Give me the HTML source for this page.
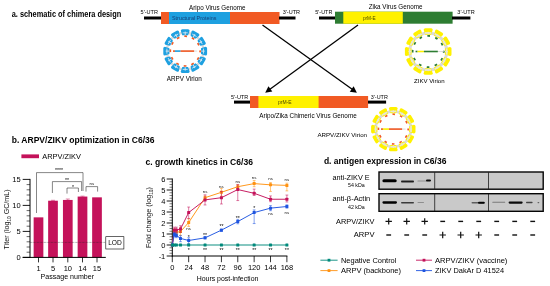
<!DOCTYPE html>
<html lang="en"><head><meta charset="utf-8"><title>Chimera design figure</title>
<style>html,body{margin:0;padding:0;background:#fff}body{width:550px;height:286px;overflow:hidden;font-family:"Liberation Sans",sans-serif}</style>
</head><body>
<svg width="550" height="286" viewBox="0 0 550 286" font-family="'Liberation Sans', sans-serif" style="display:block">
<text x="11.7" y="16.6" font-size="8.6" font-weight="bold" textLength="109.5" lengthAdjust="spacingAndGlyphs" fill="#000">a. schematic of chimera design</text>
<rect x="144" y="16.5" width="18" height="3" fill="#000"/>
<rect x="161" y="12" width="118.5" height="12" fill="#f15a24"/>
<rect x="169" y="12" width="61" height="12" fill="#1ea0e0"/>
<rect x="279" y="16.5" width="16.5" height="3" fill="#000"/>
<text x="140.6" y="14.2" font-size="5.5" textLength="17.4" lengthAdjust="spacingAndGlyphs" fill="#000">5'-UTR</text>
<text x="282.7" y="14.0" font-size="5.5" textLength="17.3" lengthAdjust="spacingAndGlyphs" fill="#000">3'-UTR</text>
<text x="189" y="10.2" font-size="6.3" textLength="56.4" lengthAdjust="spacingAndGlyphs" fill="#000">Aripo Virus Genome</text>
<text x="172" y="19.9" font-size="5.4" textLength="44.4" lengthAdjust="spacingAndGlyphs" fill="#153e75">Structural Proteins</text>
<rect x="319" y="16.5" width="17" height="3" fill="#000"/>
<rect x="335" y="11.7" width="117.6" height="12" fill="#2e7d32"/>
<rect x="343.3" y="11.7" width="59.5" height="12" fill="#fff100"/>
<rect x="452" y="16.5" width="18.4" height="3" fill="#000"/>
<text x="315.3" y="14.0" font-size="5.5" textLength="17.0" lengthAdjust="spacingAndGlyphs" fill="#000">5'-UTR</text>
<text x="457.3" y="14.2" font-size="5.5" textLength="17.5" lengthAdjust="spacingAndGlyphs" fill="#000">3'-UTR</text>
<text x="368.7" y="8.7" font-size="6.3" textLength="53.7" lengthAdjust="spacingAndGlyphs" fill="#000">Zika Virus Genome</text>
<text x="362.9" y="20.0" font-size="4.9" textLength="12.9" lengthAdjust="spacingAndGlyphs" fill="#4a4a00">prM-E</text>
<line x1="262.50" y1="25.00" x2="352.51" y2="89.55" stroke="#000" stroke-width="1.3"/>
<polygon points="356.90,92.70 349.78,91.65 353.62,86.29" fill="#000"/>
<line x1="358.00" y1="25.00" x2="269.56" y2="89.52" stroke="#000" stroke-width="1.3"/>
<polygon points="265.20,92.70 268.43,86.26 272.32,91.59" fill="#000"/>
<rect x="234" y="100.6" width="17" height="3" fill="#000"/>
<rect x="250" y="96" width="118.1" height="12" fill="#f15a24"/>
<rect x="258.4" y="96" width="60.2" height="12" fill="#fff100"/>
<rect x="368" y="100.6" width="18.1" height="3" fill="#000"/>
<text x="231" y="98.9" font-size="5.5" textLength="17.2" lengthAdjust="spacingAndGlyphs" fill="#000">5'-UTR</text>
<text x="370.8" y="98.7" font-size="5.5" textLength="17.0" lengthAdjust="spacingAndGlyphs" fill="#000">3'-UTR</text>
<text x="278" y="104.2" font-size="4.9" textLength="13.6" lengthAdjust="spacingAndGlyphs" fill="#4a4a00">prM-E</text>
<text x="259.3" y="118.0" font-size="6.3" textLength="97.4" lengthAdjust="spacingAndGlyphs" fill="#000">Aripo/Zika Chimeric Virus Genome</text>
<text x="317.4" y="137.1" font-size="6.2" textLength="49.6" lengthAdjust="spacingAndGlyphs" fill="#000">ARPV/ZIKV Virion</text>
<text x="166.7" y="80.5" font-size="6.3" textLength="35.1" lengthAdjust="spacingAndGlyphs" fill="#000">ARPV Virion</text>
<text x="414" y="83.2" font-size="6.1" textLength="30.6" lengthAdjust="spacingAndGlyphs" fill="#000">ZIKV Virion</text>
<g transform="translate(185.2,51.1)">
<circle r="18.30" fill="none" stroke="#dadada" stroke-width="2.4"/>
<circle r="14.90" fill="none" stroke="#f15a24" stroke-width="1.7" stroke-dasharray="2.800 5.002" stroke-dashoffset="1.400"/>
<g transform="rotate(0.00)"><path d="M-4.40,-20.30 Q-4.40,-21.90 -2.80,-21.90 L2.80,-21.90 Q4.40,-21.90 4.40,-20.30 L2.90,-15.80 L-2.90,-15.80 Z" fill="#1ea0e0"/><path d="M-2.50,-18.30 H2.50" stroke="#d4e6f2" stroke-width="0.86" fill="none"/><path d="M0,-19.50 V-16.10" stroke="#d4e6f2" stroke-width="1.0" fill="none"/></g>
<g transform="rotate(30.00)"><path d="M-4.40,-20.30 Q-4.40,-21.90 -2.80,-21.90 L2.80,-21.90 Q4.40,-21.90 4.40,-20.30 L2.90,-15.80 L-2.90,-15.80 Z" fill="#1ea0e0"/><path d="M-2.50,-18.30 H2.50" stroke="#d4e6f2" stroke-width="0.86" fill="none"/><path d="M0,-19.50 V-16.10" stroke="#d4e6f2" stroke-width="1.0" fill="none"/></g>
<g transform="rotate(60.00)"><path d="M-4.40,-20.30 Q-4.40,-21.90 -2.80,-21.90 L2.80,-21.90 Q4.40,-21.90 4.40,-20.30 L2.90,-15.80 L-2.90,-15.80 Z" fill="#1ea0e0"/><path d="M-2.50,-18.30 H2.50" stroke="#d4e6f2" stroke-width="0.86" fill="none"/><path d="M0,-19.50 V-16.10" stroke="#d4e6f2" stroke-width="1.0" fill="none"/></g>
<g transform="rotate(90.00)"><path d="M-4.40,-20.30 Q-4.40,-21.90 -2.80,-21.90 L2.80,-21.90 Q4.40,-21.90 4.40,-20.30 L2.90,-15.80 L-2.90,-15.80 Z" fill="#1ea0e0"/><path d="M-2.50,-18.30 H2.50" stroke="#d4e6f2" stroke-width="0.86" fill="none"/><path d="M0,-19.50 V-16.10" stroke="#d4e6f2" stroke-width="1.0" fill="none"/></g>
<g transform="rotate(120.00)"><path d="M-4.40,-20.30 Q-4.40,-21.90 -2.80,-21.90 L2.80,-21.90 Q4.40,-21.90 4.40,-20.30 L2.90,-15.80 L-2.90,-15.80 Z" fill="#1ea0e0"/><path d="M-2.50,-18.30 H2.50" stroke="#d4e6f2" stroke-width="0.86" fill="none"/><path d="M0,-19.50 V-16.10" stroke="#d4e6f2" stroke-width="1.0" fill="none"/></g>
<g transform="rotate(150.00)"><path d="M-4.40,-20.30 Q-4.40,-21.90 -2.80,-21.90 L2.80,-21.90 Q4.40,-21.90 4.40,-20.30 L2.90,-15.80 L-2.90,-15.80 Z" fill="#1ea0e0"/><path d="M-2.50,-18.30 H2.50" stroke="#d4e6f2" stroke-width="0.86" fill="none"/><path d="M0,-19.50 V-16.10" stroke="#d4e6f2" stroke-width="1.0" fill="none"/></g>
<g transform="rotate(180.00)"><path d="M-4.40,-20.30 Q-4.40,-21.90 -2.80,-21.90 L2.80,-21.90 Q4.40,-21.90 4.40,-20.30 L2.90,-15.80 L-2.90,-15.80 Z" fill="#1ea0e0"/><path d="M-2.50,-18.30 H2.50" stroke="#d4e6f2" stroke-width="0.86" fill="none"/><path d="M0,-19.50 V-16.10" stroke="#d4e6f2" stroke-width="1.0" fill="none"/></g>
<g transform="rotate(210.00)"><path d="M-4.40,-20.30 Q-4.40,-21.90 -2.80,-21.90 L2.80,-21.90 Q4.40,-21.90 4.40,-20.30 L2.90,-15.80 L-2.90,-15.80 Z" fill="#1ea0e0"/><path d="M-2.50,-18.30 H2.50" stroke="#d4e6f2" stroke-width="0.86" fill="none"/><path d="M0,-19.50 V-16.10" stroke="#d4e6f2" stroke-width="1.0" fill="none"/></g>
<g transform="rotate(240.00)"><path d="M-4.40,-20.30 Q-4.40,-21.90 -2.80,-21.90 L2.80,-21.90 Q4.40,-21.90 4.40,-20.30 L2.90,-15.80 L-2.90,-15.80 Z" fill="#1ea0e0"/><path d="M-2.50,-18.30 H2.50" stroke="#d4e6f2" stroke-width="0.86" fill="none"/><path d="M0,-19.50 V-16.10" stroke="#d4e6f2" stroke-width="1.0" fill="none"/></g>
<g transform="rotate(270.00)"><path d="M-4.40,-20.30 Q-4.40,-21.90 -2.80,-21.90 L2.80,-21.90 Q4.40,-21.90 4.40,-20.30 L2.90,-15.80 L-2.90,-15.80 Z" fill="#1ea0e0"/><path d="M-2.50,-18.30 H2.50" stroke="#d4e6f2" stroke-width="0.86" fill="none"/><path d="M0,-19.50 V-16.10" stroke="#d4e6f2" stroke-width="1.0" fill="none"/></g>
<g transform="rotate(300.00)"><path d="M-4.40,-20.30 Q-4.40,-21.90 -2.80,-21.90 L2.80,-21.90 Q4.40,-21.90 4.40,-20.30 L2.90,-15.80 L-2.90,-15.80 Z" fill="#1ea0e0"/><path d="M-2.50,-18.30 H2.50" stroke="#d4e6f2" stroke-width="0.86" fill="none"/><path d="M0,-19.50 V-16.10" stroke="#d4e6f2" stroke-width="1.0" fill="none"/></g>
<g transform="rotate(330.00)"><path d="M-4.40,-20.30 Q-4.40,-21.90 -2.80,-21.90 L2.80,-21.90 Q4.40,-21.90 4.40,-20.30 L2.90,-15.80 L-2.90,-15.80 Z" fill="#1ea0e0"/><path d="M-2.50,-18.30 H2.50" stroke="#d4e6f2" stroke-width="0.86" fill="none"/><path d="M0,-19.50 V-16.10" stroke="#d4e6f2" stroke-width="1.0" fill="none"/></g>
<line x1="-12.10" y1="0" x2="12.00" y2="0" stroke="#cfcfcf" stroke-width="0.7"/>
<line x1="-12.10" y1="0" x2="-10.30" y2="0" stroke="#f15a24" stroke-width="1.6"/>
<line x1="-10.30" y1="0" x2="-4.60" y2="0" stroke="#1ea0e0" stroke-width="1.6"/>
<line x1="-4.60" y1="0" x2="8.90" y2="0" stroke="#f15a24" stroke-width="1.6"/>
</g>
<g transform="translate(428.2,51.5)">
<circle r="18.50" fill="none" stroke="#dadada" stroke-width="3.0"/>
<circle r="15.60" fill="none" stroke="#2e7d32" stroke-width="1.8" stroke-dasharray="2.700 5.468" stroke-dashoffset="1.350"/>
<g transform="rotate(0.00)"><path d="M-4.50,-21.70 Q-4.50,-23.30 -2.90,-23.30 L2.90,-23.30 Q4.50,-23.30 4.50,-21.70 L3.00,-16.70 L-3.00,-16.70 Z" fill="#fff100"/><path d="M-3.20,-18.50 H3.20" stroke="#e6e6d8" stroke-width="1.80" fill="none"/><path d="M0,-19.70 V-17.00" stroke="#e6e6d8" stroke-width="1.0" fill="none"/></g>
<g transform="rotate(30.00)"><path d="M-4.50,-21.70 Q-4.50,-23.30 -2.90,-23.30 L2.90,-23.30 Q4.50,-23.30 4.50,-21.70 L3.00,-16.70 L-3.00,-16.70 Z" fill="#fff100"/><path d="M-3.20,-18.50 H3.20" stroke="#e6e6d8" stroke-width="1.80" fill="none"/><path d="M0,-19.70 V-17.00" stroke="#e6e6d8" stroke-width="1.0" fill="none"/></g>
<g transform="rotate(60.00)"><path d="M-4.50,-21.70 Q-4.50,-23.30 -2.90,-23.30 L2.90,-23.30 Q4.50,-23.30 4.50,-21.70 L3.00,-16.70 L-3.00,-16.70 Z" fill="#fff100"/><path d="M-3.20,-18.50 H3.20" stroke="#e6e6d8" stroke-width="1.80" fill="none"/><path d="M0,-19.70 V-17.00" stroke="#e6e6d8" stroke-width="1.0" fill="none"/></g>
<g transform="rotate(90.00)"><path d="M-4.50,-21.70 Q-4.50,-23.30 -2.90,-23.30 L2.90,-23.30 Q4.50,-23.30 4.50,-21.70 L3.00,-16.70 L-3.00,-16.70 Z" fill="#fff100"/><path d="M-3.20,-18.50 H3.20" stroke="#e6e6d8" stroke-width="1.80" fill="none"/><path d="M0,-19.70 V-17.00" stroke="#e6e6d8" stroke-width="1.0" fill="none"/></g>
<g transform="rotate(120.00)"><path d="M-4.50,-21.70 Q-4.50,-23.30 -2.90,-23.30 L2.90,-23.30 Q4.50,-23.30 4.50,-21.70 L3.00,-16.70 L-3.00,-16.70 Z" fill="#fff100"/><path d="M-3.20,-18.50 H3.20" stroke="#e6e6d8" stroke-width="1.80" fill="none"/><path d="M0,-19.70 V-17.00" stroke="#e6e6d8" stroke-width="1.0" fill="none"/></g>
<g transform="rotate(150.00)"><path d="M-4.50,-21.70 Q-4.50,-23.30 -2.90,-23.30 L2.90,-23.30 Q4.50,-23.30 4.50,-21.70 L3.00,-16.70 L-3.00,-16.70 Z" fill="#fff100"/><path d="M-3.20,-18.50 H3.20" stroke="#e6e6d8" stroke-width="1.80" fill="none"/><path d="M0,-19.70 V-17.00" stroke="#e6e6d8" stroke-width="1.0" fill="none"/></g>
<g transform="rotate(180.00)"><path d="M-4.50,-21.70 Q-4.50,-23.30 -2.90,-23.30 L2.90,-23.30 Q4.50,-23.30 4.50,-21.70 L3.00,-16.70 L-3.00,-16.70 Z" fill="#fff100"/><path d="M-3.20,-18.50 H3.20" stroke="#e6e6d8" stroke-width="1.80" fill="none"/><path d="M0,-19.70 V-17.00" stroke="#e6e6d8" stroke-width="1.0" fill="none"/></g>
<g transform="rotate(210.00)"><path d="M-4.50,-21.70 Q-4.50,-23.30 -2.90,-23.30 L2.90,-23.30 Q4.50,-23.30 4.50,-21.70 L3.00,-16.70 L-3.00,-16.70 Z" fill="#fff100"/><path d="M-3.20,-18.50 H3.20" stroke="#e6e6d8" stroke-width="1.80" fill="none"/><path d="M0,-19.70 V-17.00" stroke="#e6e6d8" stroke-width="1.0" fill="none"/></g>
<g transform="rotate(240.00)"><path d="M-4.50,-21.70 Q-4.50,-23.30 -2.90,-23.30 L2.90,-23.30 Q4.50,-23.30 4.50,-21.70 L3.00,-16.70 L-3.00,-16.70 Z" fill="#fff100"/><path d="M-3.20,-18.50 H3.20" stroke="#e6e6d8" stroke-width="1.80" fill="none"/><path d="M0,-19.70 V-17.00" stroke="#e6e6d8" stroke-width="1.0" fill="none"/></g>
<g transform="rotate(270.00)"><path d="M-4.50,-21.70 Q-4.50,-23.30 -2.90,-23.30 L2.90,-23.30 Q4.50,-23.30 4.50,-21.70 L3.00,-16.70 L-3.00,-16.70 Z" fill="#fff100"/><path d="M-3.20,-18.50 H3.20" stroke="#e6e6d8" stroke-width="1.80" fill="none"/><path d="M0,-19.70 V-17.00" stroke="#e6e6d8" stroke-width="1.0" fill="none"/></g>
<g transform="rotate(300.00)"><path d="M-4.50,-21.70 Q-4.50,-23.30 -2.90,-23.30 L2.90,-23.30 Q4.50,-23.30 4.50,-21.70 L3.00,-16.70 L-3.00,-16.70 Z" fill="#fff100"/><path d="M-3.20,-18.50 H3.20" stroke="#e6e6d8" stroke-width="1.80" fill="none"/><path d="M0,-19.70 V-17.00" stroke="#e6e6d8" stroke-width="1.0" fill="none"/></g>
<g transform="rotate(330.00)"><path d="M-4.50,-21.70 Q-4.50,-23.30 -2.90,-23.30 L2.90,-23.30 Q4.50,-23.30 4.50,-21.70 L3.00,-16.70 L-3.00,-16.70 Z" fill="#fff100"/><path d="M-3.20,-18.50 H3.20" stroke="#e6e6d8" stroke-width="1.80" fill="none"/><path d="M0,-19.70 V-17.00" stroke="#e6e6d8" stroke-width="1.0" fill="none"/></g>
<line x1="-12.60" y1="0" x2="15.80" y2="0" stroke="#cfcfcf" stroke-width="0.7"/>
<line x1="-12.60" y1="0" x2="-10.70" y2="0" stroke="#2e7d32" stroke-width="1.6"/>
<line x1="-10.70" y1="0" x2="-4.30" y2="0" stroke="#fff100" stroke-width="1.6"/>
<line x1="-4.30" y1="0" x2="9.60" y2="0" stroke="#2e7d32" stroke-width="1.6"/>
</g>
<g transform="translate(393.3,129.1)">
<circle r="17.70" fill="none" stroke="#dadada" stroke-width="2.8"/>
<circle r="14.90" fill="none" stroke="#f15a24" stroke-width="1.7" stroke-dasharray="2.600 5.202" stroke-dashoffset="1.300"/>
<g transform="rotate(0.00)"><path d="M-4.30,-20.60 Q-4.30,-22.20 -2.70,-22.20 L2.70,-22.20 Q4.30,-22.20 4.30,-20.60 L2.90,-15.90 L-2.90,-15.90 Z" fill="#fff100"/><path d="M-3.00,-17.70 H3.00" stroke="#e6e6d8" stroke-width="1.68" fill="none"/><path d="M0,-18.90 V-16.20" stroke="#e6e6d8" stroke-width="1.0" fill="none"/></g>
<g transform="rotate(30.00)"><path d="M-4.30,-20.60 Q-4.30,-22.20 -2.70,-22.20 L2.70,-22.20 Q4.30,-22.20 4.30,-20.60 L2.90,-15.90 L-2.90,-15.90 Z" fill="#fff100"/><path d="M-3.00,-17.70 H3.00" stroke="#e6e6d8" stroke-width="1.68" fill="none"/><path d="M0,-18.90 V-16.20" stroke="#e6e6d8" stroke-width="1.0" fill="none"/></g>
<g transform="rotate(60.00)"><path d="M-4.30,-20.60 Q-4.30,-22.20 -2.70,-22.20 L2.70,-22.20 Q4.30,-22.20 4.30,-20.60 L2.90,-15.90 L-2.90,-15.90 Z" fill="#fff100"/><path d="M-3.00,-17.70 H3.00" stroke="#e6e6d8" stroke-width="1.68" fill="none"/><path d="M0,-18.90 V-16.20" stroke="#e6e6d8" stroke-width="1.0" fill="none"/></g>
<g transform="rotate(90.00)"><path d="M-4.30,-20.60 Q-4.30,-22.20 -2.70,-22.20 L2.70,-22.20 Q4.30,-22.20 4.30,-20.60 L2.90,-15.90 L-2.90,-15.90 Z" fill="#fff100"/><path d="M-3.00,-17.70 H3.00" stroke="#e6e6d8" stroke-width="1.68" fill="none"/><path d="M0,-18.90 V-16.20" stroke="#e6e6d8" stroke-width="1.0" fill="none"/></g>
<g transform="rotate(120.00)"><path d="M-4.30,-20.60 Q-4.30,-22.20 -2.70,-22.20 L2.70,-22.20 Q4.30,-22.20 4.30,-20.60 L2.90,-15.90 L-2.90,-15.90 Z" fill="#fff100"/><path d="M-3.00,-17.70 H3.00" stroke="#e6e6d8" stroke-width="1.68" fill="none"/><path d="M0,-18.90 V-16.20" stroke="#e6e6d8" stroke-width="1.0" fill="none"/></g>
<g transform="rotate(150.00)"><path d="M-4.30,-20.60 Q-4.30,-22.20 -2.70,-22.20 L2.70,-22.20 Q4.30,-22.20 4.30,-20.60 L2.90,-15.90 L-2.90,-15.90 Z" fill="#fff100"/><path d="M-3.00,-17.70 H3.00" stroke="#e6e6d8" stroke-width="1.68" fill="none"/><path d="M0,-18.90 V-16.20" stroke="#e6e6d8" stroke-width="1.0" fill="none"/></g>
<g transform="rotate(180.00)"><path d="M-4.30,-20.60 Q-4.30,-22.20 -2.70,-22.20 L2.70,-22.20 Q4.30,-22.20 4.30,-20.60 L2.90,-15.90 L-2.90,-15.90 Z" fill="#fff100"/><path d="M-3.00,-17.70 H3.00" stroke="#e6e6d8" stroke-width="1.68" fill="none"/><path d="M0,-18.90 V-16.20" stroke="#e6e6d8" stroke-width="1.0" fill="none"/></g>
<g transform="rotate(210.00)"><path d="M-4.30,-20.60 Q-4.30,-22.20 -2.70,-22.20 L2.70,-22.20 Q4.30,-22.20 4.30,-20.60 L2.90,-15.90 L-2.90,-15.90 Z" fill="#fff100"/><path d="M-3.00,-17.70 H3.00" stroke="#e6e6d8" stroke-width="1.68" fill="none"/><path d="M0,-18.90 V-16.20" stroke="#e6e6d8" stroke-width="1.0" fill="none"/></g>
<g transform="rotate(240.00)"><path d="M-4.30,-20.60 Q-4.30,-22.20 -2.70,-22.20 L2.70,-22.20 Q4.30,-22.20 4.30,-20.60 L2.90,-15.90 L-2.90,-15.90 Z" fill="#fff100"/><path d="M-3.00,-17.70 H3.00" stroke="#e6e6d8" stroke-width="1.68" fill="none"/><path d="M0,-18.90 V-16.20" stroke="#e6e6d8" stroke-width="1.0" fill="none"/></g>
<g transform="rotate(270.00)"><path d="M-4.30,-20.60 Q-4.30,-22.20 -2.70,-22.20 L2.70,-22.20 Q4.30,-22.20 4.30,-20.60 L2.90,-15.90 L-2.90,-15.90 Z" fill="#fff100"/><path d="M-3.00,-17.70 H3.00" stroke="#e6e6d8" stroke-width="1.68" fill="none"/><path d="M0,-18.90 V-16.20" stroke="#e6e6d8" stroke-width="1.0" fill="none"/></g>
<g transform="rotate(300.00)"><path d="M-4.30,-20.60 Q-4.30,-22.20 -2.70,-22.20 L2.70,-22.20 Q4.30,-22.20 4.30,-20.60 L2.90,-15.90 L-2.90,-15.90 Z" fill="#fff100"/><path d="M-3.00,-17.70 H3.00" stroke="#e6e6d8" stroke-width="1.68" fill="none"/><path d="M0,-18.90 V-16.20" stroke="#e6e6d8" stroke-width="1.0" fill="none"/></g>
<g transform="rotate(330.00)"><path d="M-4.30,-20.60 Q-4.30,-22.20 -2.70,-22.20 L2.70,-22.20 Q4.30,-22.20 4.30,-20.60 L2.90,-15.90 L-2.90,-15.90 Z" fill="#fff100"/><path d="M-3.00,-17.70 H3.00" stroke="#e6e6d8" stroke-width="1.68" fill="none"/><path d="M0,-18.90 V-16.20" stroke="#e6e6d8" stroke-width="1.0" fill="none"/></g>
<line x1="-12.20" y1="0" x2="12.30" y2="0" stroke="#cfcfcf" stroke-width="0.7"/>
<line x1="-12.20" y1="0" x2="-10.40" y2="0" stroke="#f15a24" stroke-width="1.6"/>
<line x1="-10.40" y1="0" x2="-4.30" y2="0" stroke="#fff100" stroke-width="1.6"/>
<line x1="-4.30" y1="0" x2="8.80" y2="0" stroke="#f15a24" stroke-width="1.6"/>
</g>
<text x="11.7" y="142.7" font-size="8.6" font-weight="bold" textLength="142.9" lengthAdjust="spacingAndGlyphs" fill="#000">b. ARPV/ZIKV optimization in C6/36</text>
<rect x="21.4" y="154.4" width="17.6" height="3.8" fill="#c4125a"/>
<text x="42.3" y="159.0" font-size="7.4" textLength="38.7" lengthAdjust="spacingAndGlyphs" fill="#000">ARPV/ZIKV</text>
<rect x="33.65" y="217.36" width="9.7" height="40.04" fill="#c4125a"/>
<rect x="48.15" y="200.72" width="9.7" height="56.68" fill="#c4125a"/>
<rect x="62.95" y="199.94" width="9.7" height="57.46" fill="#c4125a"/>
<rect x="77.65" y="196.56" width="9.7" height="60.84" fill="#c4125a"/>
<rect x="92.15" y="197.34" width="9.7" height="60.06" fill="#c4125a"/>
<path d="M53,200.72 V200.30 M51,200.30 H55" stroke="#c4125a" stroke-width="0.5" fill="none"/>
<path d="M67.8,199.94 V199.00 M65.8,199.00 H69.8" stroke="#c4125a" stroke-width="0.5" fill="none"/>
<path d="M82.5,196.56 V196.14 M80.5,196.14 H84.5" stroke="#c4125a" stroke-width="0.5" fill="none"/>
<line x1="30" y1="178.90" x2="30" y2="257.90" stroke="#000" stroke-width="1"/>
<line x1="22.7" y1="257.4" x2="105.8" y2="257.4" stroke="#000" stroke-width="1"/>
<line x1="22.7" y1="257.40" x2="30" y2="257.40" stroke="#000" stroke-width="0.9"/>
<line x1="26.6" y1="252.20" x2="30" y2="252.20" stroke="#000" stroke-width="0.6"/>
<line x1="26.6" y1="247.00" x2="30" y2="247.00" stroke="#000" stroke-width="0.6"/>
<line x1="26.6" y1="241.80" x2="30" y2="241.80" stroke="#000" stroke-width="0.6"/>
<line x1="26.6" y1="236.60" x2="30" y2="236.60" stroke="#000" stroke-width="0.6"/>
<line x1="22.7" y1="231.40" x2="30" y2="231.40" stroke="#000" stroke-width="0.9"/>
<line x1="26.6" y1="226.20" x2="30" y2="226.20" stroke="#000" stroke-width="0.6"/>
<line x1="26.6" y1="221.00" x2="30" y2="221.00" stroke="#000" stroke-width="0.6"/>
<line x1="26.6" y1="215.80" x2="30" y2="215.80" stroke="#000" stroke-width="0.6"/>
<line x1="26.6" y1="210.60" x2="30" y2="210.60" stroke="#000" stroke-width="0.6"/>
<line x1="22.7" y1="205.40" x2="30" y2="205.40" stroke="#000" stroke-width="0.9"/>
<line x1="26.6" y1="200.20" x2="30" y2="200.20" stroke="#000" stroke-width="0.6"/>
<line x1="26.6" y1="195.00" x2="30" y2="195.00" stroke="#000" stroke-width="0.6"/>
<line x1="26.6" y1="189.80" x2="30" y2="189.80" stroke="#000" stroke-width="0.6"/>
<line x1="26.6" y1="184.60" x2="30" y2="184.60" stroke="#000" stroke-width="0.6"/>
<line x1="22.7" y1="179.40" x2="30" y2="179.40" stroke="#000" stroke-width="0.9"/>
<text x="20.6" y="260.0" font-size="7.5" text-anchor="end" fill="#000">0</text>
<text x="20.6" y="233.99999999999997" font-size="7.5" text-anchor="end" fill="#000">5</text>
<text x="20.6" y="207.99999999999997" font-size="7.5" text-anchor="end" fill="#000">10</text>
<text x="20.6" y="181.99999999999997" font-size="7.5" text-anchor="end" fill="#000">15</text>
<line x1="38.5" y1="257.4" x2="38.5" y2="262.4" stroke="#000" stroke-width="0.8"/>
<text x="38.5" y="271.2" font-size="7.5" text-anchor="middle" fill="#000">1</text>
<line x1="53" y1="257.4" x2="53" y2="262.4" stroke="#000" stroke-width="0.8"/>
<text x="53" y="271.2" font-size="7.5" text-anchor="middle" fill="#000">5</text>
<line x1="67.8" y1="257.4" x2="67.8" y2="262.4" stroke="#000" stroke-width="0.8"/>
<text x="67.8" y="271.2" font-size="7.5" text-anchor="middle" fill="#000">10</text>
<line x1="82.5" y1="257.4" x2="82.5" y2="262.4" stroke="#000" stroke-width="0.8"/>
<text x="82.5" y="271.2" font-size="7.5" text-anchor="middle" fill="#000">14</text>
<line x1="97" y1="257.4" x2="97" y2="262.4" stroke="#000" stroke-width="0.8"/>
<text x="97" y="271.2" font-size="7.5" text-anchor="middle" fill="#000">15</text>
<text x="40.6" y="278.6" font-size="7.0" textLength="53.5" lengthAdjust="spacingAndGlyphs" fill="#000">Passage number</text>
<text transform="translate(9.4,249.4) rotate(-90)" font-size="7" textLength="60" lengthAdjust="spacingAndGlyphs" fill="#111">Titer (log<tspan font-size="4.6" dy="1.3">10</tspan><tspan dy="-1.3"> GC/mL)</tspan></text>
<line x1="30" y1="242.4" x2="105.8" y2="242.4" stroke="#222" stroke-width="0.5" stroke-dasharray="0.7 0.7"/>
<rect x="105.8" y="236.7" width="18.1" height="12.3" fill="#fff" stroke="#000" stroke-width="0.6"/>
<text x="108.2" y="245.4" font-size="6.6" textLength="13.6" lengthAdjust="spacingAndGlyphs" fill="#000">LOD</text>
<path d="M36.5,213 V172.6 H83 V191" stroke="#222" stroke-width="0.55" fill="none"/>
<text x="59" y="171.9" font-size="5.2" text-anchor="middle" fill="#000">****</text>
<path d="M52.4,193 V181.6 H81.6 V191" stroke="#222" stroke-width="0.55" fill="none"/>
<text x="67" y="182.3" font-size="5.2" text-anchor="middle" fill="#000">**</text>
<path d="M67,193.6 V188 H78.4 V192" stroke="#222" stroke-width="0.55" fill="none"/>
<text x="73" y="188.5" font-size="5.2" text-anchor="middle" fill="#000">*</text>
<path d="M86,191.6 V186.6 H97.6 V191.6" stroke="#222" stroke-width="0.55" fill="none"/>
<text x="91.8" y="184.8" font-size="4.4" text-anchor="middle" fill="#111">ns</text>
<text x="145.6" y="164.7" font-size="8.6" font-weight="bold" textLength="107.3" lengthAdjust="spacingAndGlyphs" fill="#000">c. growth kinetics in C6/36</text>
<line x1="172.3" y1="178.50" x2="172.3" y2="256.50" stroke="#000" stroke-width="1"/>
<line x1="171.8" y1="256.00" x2="287.39" y2="256.00" stroke="#000" stroke-width="1"/>
<line x1="166.70000000000002" y1="256.00" x2="172.3" y2="256.00" stroke="#000" stroke-width="0.9"/>
<line x1="169.5" y1="253.25" x2="172.3" y2="253.25" stroke="#000" stroke-width="0.5"/>
<line x1="169.5" y1="250.50" x2="172.3" y2="250.50" stroke="#000" stroke-width="0.5"/>
<line x1="169.5" y1="247.75" x2="172.3" y2="247.75" stroke="#000" stroke-width="0.5"/>
<line x1="166.70000000000002" y1="245.00" x2="172.3" y2="245.00" stroke="#000" stroke-width="0.9"/>
<line x1="169.5" y1="242.25" x2="172.3" y2="242.25" stroke="#000" stroke-width="0.5"/>
<line x1="169.5" y1="239.50" x2="172.3" y2="239.50" stroke="#000" stroke-width="0.5"/>
<line x1="169.5" y1="236.75" x2="172.3" y2="236.75" stroke="#000" stroke-width="0.5"/>
<line x1="166.70000000000002" y1="234.00" x2="172.3" y2="234.00" stroke="#000" stroke-width="0.9"/>
<line x1="169.5" y1="231.25" x2="172.3" y2="231.25" stroke="#000" stroke-width="0.5"/>
<line x1="169.5" y1="228.50" x2="172.3" y2="228.50" stroke="#000" stroke-width="0.5"/>
<line x1="169.5" y1="225.75" x2="172.3" y2="225.75" stroke="#000" stroke-width="0.5"/>
<line x1="166.70000000000002" y1="223.00" x2="172.3" y2="223.00" stroke="#000" stroke-width="0.9"/>
<line x1="169.5" y1="220.25" x2="172.3" y2="220.25" stroke="#000" stroke-width="0.5"/>
<line x1="169.5" y1="217.50" x2="172.3" y2="217.50" stroke="#000" stroke-width="0.5"/>
<line x1="169.5" y1="214.75" x2="172.3" y2="214.75" stroke="#000" stroke-width="0.5"/>
<line x1="166.70000000000002" y1="212.00" x2="172.3" y2="212.00" stroke="#000" stroke-width="0.9"/>
<line x1="169.5" y1="209.25" x2="172.3" y2="209.25" stroke="#000" stroke-width="0.5"/>
<line x1="169.5" y1="206.50" x2="172.3" y2="206.50" stroke="#000" stroke-width="0.5"/>
<line x1="169.5" y1="203.75" x2="172.3" y2="203.75" stroke="#000" stroke-width="0.5"/>
<line x1="166.70000000000002" y1="201.00" x2="172.3" y2="201.00" stroke="#000" stroke-width="0.9"/>
<line x1="169.5" y1="198.25" x2="172.3" y2="198.25" stroke="#000" stroke-width="0.5"/>
<line x1="169.5" y1="195.50" x2="172.3" y2="195.50" stroke="#000" stroke-width="0.5"/>
<line x1="169.5" y1="192.75" x2="172.3" y2="192.75" stroke="#000" stroke-width="0.5"/>
<line x1="166.70000000000002" y1="190.00" x2="172.3" y2="190.00" stroke="#000" stroke-width="0.9"/>
<line x1="169.5" y1="187.25" x2="172.3" y2="187.25" stroke="#000" stroke-width="0.5"/>
<line x1="169.5" y1="184.50" x2="172.3" y2="184.50" stroke="#000" stroke-width="0.5"/>
<line x1="169.5" y1="181.75" x2="172.3" y2="181.75" stroke="#000" stroke-width="0.5"/>
<line x1="166.70000000000002" y1="179.00" x2="172.3" y2="179.00" stroke="#000" stroke-width="0.9"/>
<text x="165.3" y="258.6" font-size="7.5" text-anchor="end" fill="#000">-1</text>
<text x="165.3" y="247.6" font-size="7.5" text-anchor="end" fill="#000">0</text>
<text x="165.3" y="236.6" font-size="7.5" text-anchor="end" fill="#000">1</text>
<text x="165.3" y="225.6" font-size="7.5" text-anchor="end" fill="#000">2</text>
<text x="165.3" y="214.6" font-size="7.5" text-anchor="end" fill="#000">3</text>
<text x="165.3" y="203.6" font-size="7.5" text-anchor="end" fill="#000">4</text>
<text x="165.3" y="192.6" font-size="7.5" text-anchor="end" fill="#000">5</text>
<text x="165.3" y="181.6" font-size="7.5" text-anchor="end" fill="#000">6</text>
<line x1="172.30" y1="256.00" x2="172.30" y2="262.20" stroke="#000" stroke-width="0.8"/>
<text x="172.3" y="269.8" font-size="7.5" text-anchor="middle" fill="#000">0</text>
<line x1="188.67" y1="256.00" x2="188.67" y2="262.20" stroke="#000" stroke-width="0.8"/>
<text x="188.67" y="269.8" font-size="7.5" text-anchor="middle" fill="#000">24</text>
<line x1="205.04" y1="256.00" x2="205.04" y2="262.20" stroke="#000" stroke-width="0.8"/>
<text x="205.04" y="269.8" font-size="7.5" text-anchor="middle" fill="#000">48</text>
<line x1="221.41" y1="256.00" x2="221.41" y2="262.20" stroke="#000" stroke-width="0.8"/>
<text x="221.41" y="269.8" font-size="7.5" text-anchor="middle" fill="#000">72</text>
<line x1="237.78" y1="256.00" x2="237.78" y2="262.20" stroke="#000" stroke-width="0.8"/>
<text x="237.78" y="269.8" font-size="7.5" text-anchor="middle" fill="#000">96</text>
<line x1="254.15" y1="256.00" x2="254.15" y2="262.20" stroke="#000" stroke-width="0.8"/>
<text x="254.15" y="269.8" font-size="7.5" text-anchor="middle" fill="#000">120</text>
<line x1="270.52" y1="256.00" x2="270.52" y2="262.20" stroke="#000" stroke-width="0.8"/>
<text x="270.52" y="269.8" font-size="7.5" text-anchor="middle" fill="#000">144</text>
<line x1="286.89" y1="256.00" x2="286.89" y2="262.20" stroke="#000" stroke-width="0.8"/>
<text x="286.89" y="269.8" font-size="7.5" text-anchor="middle" fill="#000">168</text>
<text x="196.7" y="281.0" font-size="7.0" textLength="61.7" lengthAdjust="spacingAndGlyphs" fill="#000">Hours post-infection</text>
<text transform="translate(151.2,248.1) rotate(-90)" font-size="7" textLength="61" lengthAdjust="spacingAndGlyphs" fill="#111">Fold change (log<tspan font-size="4.6" dy="1.3">10</tspan><tspan dy="-1.3">)</tspan></text>
<path d="M174.35,229.05 V233.45 M172.95,229.05 h2.8 M172.95,233.45 h2.8" stroke="#ff9212" stroke-width="0.55" fill="none"/>
<path d="M176.39,230.15 V234.55 M174.99,230.15 h2.8 M174.99,234.55 h2.8" stroke="#ff9212" stroke-width="0.55" fill="none"/>
<path d="M180.49,227.73 V235.43 M179.09,227.73 h2.8 M179.09,235.43 h2.8" stroke="#ff9212" stroke-width="0.55" fill="none"/>
<path d="M188.67,218.71 V226.41 M187.27,218.71 h2.8 M187.27,226.41 h2.8" stroke="#ff9212" stroke-width="0.55" fill="none"/>
<path d="M205.04,196.05 V199.35 M203.64,196.05 h2.8 M203.64,199.35 h2.8" stroke="#ff9212" stroke-width="0.55" fill="none"/>
<path d="M221.41,188.35 V196.27 M220.01,188.35 h2.8 M220.01,196.27 h2.8" stroke="#ff9212" stroke-width="0.55" fill="none"/>
<path d="M237.78,184.72 V188.68 M236.38,184.72 h2.8 M236.38,188.68 h2.8" stroke="#ff9212" stroke-width="0.55" fill="none"/>
<path d="M254.15,180.54 V186.70 M252.75,180.54 h2.8 M252.75,186.70 h2.8" stroke="#ff9212" stroke-width="0.55" fill="none"/>
<path d="M270.52,182.63 V191.43 M269.12,182.63 h2.8 M269.12,191.43 h2.8" stroke="#ff9212" stroke-width="0.55" fill="none"/>
<path d="M286.89,183.18 V190.88 M285.49,183.18 h2.8 M285.49,190.88 h2.8" stroke="#ff9212" stroke-width="0.55" fill="none"/>
<polyline points="172.30,245.00 174.35,231.25 176.39,232.35 180.49,231.58 188.67,222.56 205.04,197.70 221.41,192.31 237.78,186.70 254.15,183.62 270.52,184.83 286.89,185.38" fill="none" stroke="#ff9212" stroke-width="0.95" stroke-linejoin="round"/>
<rect x="170.80" y="243.50" width="3.0" height="3.0" rx="0.5" fill="#ff9212"/>
<rect x="172.85" y="229.75" width="3.0" height="3.0" rx="0.5" fill="#ff9212"/>
<rect x="174.89" y="230.85" width="3.0" height="3.0" rx="0.5" fill="#ff9212"/>
<rect x="178.99" y="230.08" width="3.0" height="3.0" rx="0.5" fill="#ff9212"/>
<rect x="187.17" y="221.06" width="3.0" height="3.0" rx="0.5" fill="#ff9212"/>
<rect x="203.54" y="196.20" width="3.0" height="3.0" rx="0.5" fill="#ff9212"/>
<rect x="219.91" y="190.81" width="3.0" height="3.0" rx="0.5" fill="#ff9212"/>
<rect x="236.28" y="185.20" width="3.0" height="3.0" rx="0.5" fill="#ff9212"/>
<rect x="252.65" y="182.12" width="3.0" height="3.0" rx="0.5" fill="#ff9212"/>
<rect x="269.02" y="183.33" width="3.0" height="3.0" rx="0.5" fill="#ff9212"/>
<rect x="285.39" y="183.88" width="3.0" height="3.0" rx="0.5" fill="#ff9212"/>
<path d="M174.35,227.18 V232.68 M172.95,227.18 h2.8 M172.95,232.68 h2.8" stroke="#c4125a" stroke-width="0.55" fill="none"/>
<path d="M176.39,227.18 V232.68 M174.99,227.18 h2.8 M174.99,232.68 h2.8" stroke="#c4125a" stroke-width="0.55" fill="none"/>
<path d="M180.49,225.75 V232.35 M179.09,225.75 h2.8 M179.09,232.35 h2.8" stroke="#c4125a" stroke-width="0.55" fill="none"/>
<path d="M188.67,207.05 V218.60 M187.27,207.05 h2.8 M187.27,218.60 h2.8" stroke="#c4125a" stroke-width="0.55" fill="none"/>
<path d="M205.04,194.84 V204.96 M203.64,194.84 h2.8 M203.64,204.96 h2.8" stroke="#c4125a" stroke-width="0.55" fill="none"/>
<path d="M221.41,191.43 V203.97 M220.01,191.43 h2.8 M220.01,203.97 h2.8" stroke="#c4125a" stroke-width="0.55" fill="none"/>
<path d="M237.78,184.61 V200.56 M236.38,184.61 h2.8 M236.38,200.56 h2.8" stroke="#c4125a" stroke-width="0.55" fill="none"/>
<path d="M254.15,189.12 V195.50 M252.75,189.12 h2.8 M252.75,195.50 h2.8" stroke="#c4125a" stroke-width="0.55" fill="none"/>
<path d="M270.52,195.94 V201.66 M269.12,195.94 h2.8 M269.12,201.66 h2.8" stroke="#c4125a" stroke-width="0.55" fill="none"/>
<path d="M286.89,195.06 V201.99 M285.49,195.06 h2.8 M285.49,201.99 h2.8" stroke="#c4125a" stroke-width="0.55" fill="none"/>
<polyline points="172.30,245.00 174.35,229.93 176.39,229.93 180.49,229.05 188.67,212.55 205.04,199.90 221.41,197.70 237.78,189.56 254.15,193.30 270.52,199.24 286.89,199.24" fill="none" stroke="#c4125a" stroke-width="0.95" stroke-linejoin="round"/>
<rect x="170.80" y="243.50" width="3.0" height="3.0" rx="0.5" fill="#c4125a"/>
<rect x="172.85" y="228.43" width="3.0" height="3.0" rx="0.5" fill="#c4125a"/>
<rect x="174.89" y="228.43" width="3.0" height="3.0" rx="0.5" fill="#c4125a"/>
<rect x="178.99" y="227.55" width="3.0" height="3.0" rx="0.5" fill="#c4125a"/>
<rect x="187.17" y="211.05" width="3.0" height="3.0" rx="0.5" fill="#c4125a"/>
<rect x="203.54" y="198.40" width="3.0" height="3.0" rx="0.5" fill="#c4125a"/>
<rect x="219.91" y="196.20" width="3.0" height="3.0" rx="0.5" fill="#c4125a"/>
<rect x="236.28" y="188.06" width="3.0" height="3.0" rx="0.5" fill="#c4125a"/>
<rect x="252.65" y="191.80" width="3.0" height="3.0" rx="0.5" fill="#c4125a"/>
<rect x="269.02" y="197.74" width="3.0" height="3.0" rx="0.5" fill="#c4125a"/>
<rect x="285.39" y="197.74" width="3.0" height="3.0" rx="0.5" fill="#c4125a"/>
<path d="M174.35,232.35 V236.75 M172.95,232.35 h2.8 M172.95,236.75 h2.8" stroke="#1f55e0" stroke-width="0.55" fill="none"/>
<path d="M176.39,233.23 V237.63 M174.99,233.23 h2.8 M174.99,237.63 h2.8" stroke="#1f55e0" stroke-width="0.55" fill="none"/>
<path d="M180.49,235.65 V241.70 M179.09,235.65 h2.8 M179.09,241.70 h2.8" stroke="#1f55e0" stroke-width="0.55" fill="none"/>
<path d="M188.67,237.74 V243.79 M187.27,237.74 h2.8 M187.27,243.79 h2.8" stroke="#1f55e0" stroke-width="0.55" fill="none"/>
<path d="M205.04,236.75 V238.95 M203.64,236.75 h2.8 M203.64,238.95 h2.8" stroke="#1f55e0" stroke-width="0.55" fill="none"/>
<path d="M221.41,229.05 V231.25 M220.01,229.05 h2.8 M220.01,231.25 h2.8" stroke="#1f55e0" stroke-width="0.55" fill="none"/>
<path d="M237.78,219.37 V223.77 M236.38,219.37 h2.8 M236.38,223.77 h2.8" stroke="#1f55e0" stroke-width="0.55" fill="none"/>
<path d="M254.15,209.91 V223.55 M252.75,209.91 h2.8 M252.75,223.55 h2.8" stroke="#1f55e0" stroke-width="0.55" fill="none"/>
<path d="M270.52,205.62 V210.68 M269.12,205.62 h2.8 M269.12,210.68 h2.8" stroke="#1f55e0" stroke-width="0.55" fill="none"/>
<path d="M286.89,204.85 V208.15 M285.49,204.85 h2.8 M285.49,208.15 h2.8" stroke="#1f55e0" stroke-width="0.55" fill="none"/>
<polyline points="172.30,245.00 174.35,234.55 176.39,235.43 180.49,238.40 188.67,240.49 205.04,237.85 221.41,230.15 237.78,221.57 254.15,212.55 270.52,208.15 286.89,206.50" fill="none" stroke="#1f55e0" stroke-width="0.95" stroke-linejoin="round"/>
<rect x="170.80" y="243.50" width="3.0" height="3.0" rx="0.5" fill="#1f55e0"/>
<rect x="172.85" y="233.05" width="3.0" height="3.0" rx="0.5" fill="#1f55e0"/>
<rect x="174.89" y="233.93" width="3.0" height="3.0" rx="0.5" fill="#1f55e0"/>
<rect x="178.99" y="236.90" width="3.0" height="3.0" rx="0.5" fill="#1f55e0"/>
<rect x="187.17" y="238.99" width="3.0" height="3.0" rx="0.5" fill="#1f55e0"/>
<rect x="203.54" y="236.35" width="3.0" height="3.0" rx="0.5" fill="#1f55e0"/>
<rect x="219.91" y="228.65" width="3.0" height="3.0" rx="0.5" fill="#1f55e0"/>
<rect x="236.28" y="220.07" width="3.0" height="3.0" rx="0.5" fill="#1f55e0"/>
<rect x="252.65" y="211.05" width="3.0" height="3.0" rx="0.5" fill="#1f55e0"/>
<rect x="269.02" y="206.65" width="3.0" height="3.0" rx="0.5" fill="#1f55e0"/>
<rect x="285.39" y="205.00" width="3.0" height="3.0" rx="0.5" fill="#1f55e0"/>
<polyline points="172.30,245.00 174.35,245.00 176.39,245.00 180.49,245.00 188.67,245.00 205.04,245.00 221.41,245.00 237.78,245.00 254.15,245.00 270.52,245.00 286.89,245.00" fill="none" stroke="#00897b" stroke-width="0.95" stroke-linejoin="round"/>
<rect x="170.80" y="243.50" width="3.0" height="3.0" rx="0.5" fill="#00897b"/>
<rect x="172.85" y="243.50" width="3.0" height="3.0" rx="0.5" fill="#00897b"/>
<rect x="174.89" y="243.50" width="3.0" height="3.0" rx="0.5" fill="#00897b"/>
<rect x="178.99" y="243.50" width="3.0" height="3.0" rx="0.5" fill="#00897b"/>
<rect x="187.17" y="243.50" width="3.0" height="3.0" rx="0.5" fill="#00897b"/>
<rect x="203.54" y="243.50" width="3.0" height="3.0" rx="0.5" fill="#00897b"/>
<rect x="219.91" y="243.50" width="3.0" height="3.0" rx="0.5" fill="#00897b"/>
<rect x="236.28" y="243.50" width="3.0" height="3.0" rx="0.5" fill="#00897b"/>
<rect x="252.65" y="243.50" width="3.0" height="3.0" rx="0.5" fill="#00897b"/>
<rect x="269.02" y="243.50" width="3.0" height="3.0" rx="0.5" fill="#00897b"/>
<rect x="285.39" y="243.50" width="3.0" height="3.0" rx="0.5" fill="#00897b"/>
<text x="205.04" y="193.3" font-size="4.4" text-anchor="middle" fill="#111">ns</text>
<text x="221.41" y="188.2" font-size="4.4" text-anchor="middle" fill="#111">ns</text>
<text x="237.78" y="182.7" font-size="4.4" text-anchor="middle" fill="#111">ns</text>
<text x="254.15" y="178.5" font-size="4.4" text-anchor="middle" fill="#111">ns</text>
<text x="270.52" y="179.6" font-size="4.4" text-anchor="middle" fill="#111">ns</text>
<text x="286.89" y="180.8" font-size="4.4" text-anchor="middle" fill="#111">ns</text>
<text x="188.67" y="239.2" font-size="5.2" text-anchor="middle" fill="#000">*</text>
<text x="205.04" y="236.8" font-size="5.2" text-anchor="middle" fill="#000">**</text>
<text x="221.41" y="228.2" font-size="5.2" text-anchor="middle" fill="#000">**</text>
<text x="237.78" y="219.9" font-size="5.2" text-anchor="middle" fill="#000">**</text>
<text x="254.15" y="209.9" font-size="5.2" text-anchor="middle" fill="#000">*</text>
<text x="270.52" y="214.8" font-size="4.4" text-anchor="middle" fill="#111">ns</text>
<text x="286.89" y="213.6" font-size="4.4" text-anchor="middle" fill="#111">ns</text>
<text x="188.67" y="230.2" font-size="4.4" text-anchor="middle" fill="#111">ns</text>
<text x="188.67" y="252.3" font-size="5.2" text-anchor="middle" fill="#000">*</text>
<text x="205.04" y="252.3" font-size="5.2" text-anchor="middle" fill="#000">**</text>
<text x="221.41" y="252.3" font-size="5.2" text-anchor="middle" fill="#000">**</text>
<text x="237.78" y="252.3" font-size="5.2" text-anchor="middle" fill="#000">**</text>
<text x="254.15" y="252.3" font-size="5.2" text-anchor="middle" fill="#000">**</text>
<text x="270.52" y="252.3" font-size="5.2" text-anchor="middle" fill="#000">**</text>
<text x="286.89" y="252.3" font-size="5.2" text-anchor="middle" fill="#000">**</text>
<text x="323.9" y="164.0" font-size="8.6" font-weight="bold" textLength="122.5" lengthAdjust="spacingAndGlyphs" fill="#000">d. antigen expression in C6/36</text>
<defs><filter id="bl" x="-20%" y="-100%" width="140%" height="300%"><feGaussianBlur stdDeviation="0.45"/></filter></defs>
<rect x="379.00" y="172.00" width="164.20" height="17.20" fill="#c9c9c9" stroke="#050505" stroke-width="1.4"/>
<line x1="434.7" y1="172.3" x2="434.7" y2="188.9" stroke="#111" stroke-width="0.75"/>
<line x1="488.5" y1="172.3" x2="488.5" y2="188.9" stroke="#111" stroke-width="0.75"/>
<rect x="379.00" y="193.70" width="164.20" height="17.60" fill="#c9c9c9" stroke="#050505" stroke-width="1.4"/>
<line x1="434.7" y1="194.0" x2="434.7" y2="211.0" stroke="#111" stroke-width="0.75"/>
<line x1="488.5" y1="194.0" x2="488.5" y2="211.0" stroke="#111" stroke-width="0.75"/>
<rect x="382.4" y="179.30" width="14.30" height="3.0" rx="1.5" fill="#000" opacity="1" filter="url(#bl)"/>
<rect x="401" y="180.50" width="13.00" height="2.0" rx="1.0" fill="#111" opacity="0.9" filter="url(#bl)"/>
<rect x="417.4" y="180.40" width="9.60" height="1.2" rx="0.6" fill="#555" opacity="0.5" filter="url(#bl)"/>
<rect x="426" y="179.40" width="5.00" height="2.2" rx="1.1" fill="#000" opacity="0.95" filter="url(#bl)"/>
<rect x="382.4" y="201.35" width="14.60" height="2.3" rx="1.15" fill="#000" opacity="1" filter="url(#bl)"/>
<rect x="401" y="202.00" width="13.00" height="1.6" rx="0.8" fill="#222" opacity="0.85" filter="url(#bl)"/>
<rect x="417.5" y="202.10" width="6.50" height="1.0" rx="0.5" fill="#555" opacity="0.5" filter="url(#bl)"/>
<rect x="471.5" y="202.10" width="13.00" height="1.4" rx="0.7" fill="#333" opacity="0.7" filter="url(#bl)"/>
<rect x="478" y="201.70" width="6.80" height="2.0" rx="1.0" fill="#000" opacity="0.95" filter="url(#bl)"/>
<rect x="492.2" y="201.75" width="13.10" height="0.9" rx="0.45" fill="#444" opacity="0.6" filter="url(#bl)"/>
<rect x="508.6" y="201.50" width="14.10" height="2.2" rx="1.1" fill="#000" opacity="0.95" filter="url(#bl)"/>
<rect x="526" y="201.65" width="6.60" height="1.5" rx="0.75" fill="#222" opacity="0.8" filter="url(#bl)"/>
<rect x="537.5" y="202.00" width="1.80" height="1.2" rx="0.6" fill="#333" opacity="0.7" filter="url(#bl)"/>
<text x="332.4" y="180.2" font-size="7.4" textLength="37.3" lengthAdjust="spacingAndGlyphs" fill="#000">anti-ZIKV E</text>
<text x="348" y="187.1" font-size="5.3" textLength="16.7" lengthAdjust="spacingAndGlyphs" fill="#000">54 kDa</text>
<text x="332.4" y="201.0" font-size="7.4" textLength="37.8" lengthAdjust="spacingAndGlyphs" fill="#000">anti-β-Actin</text>
<text x="348" y="208.7" font-size="5.3" textLength="16.7" lengthAdjust="spacingAndGlyphs" fill="#000">42 kDa</text>
<text x="336" y="223.7" font-size="7.4" textLength="38.5" lengthAdjust="spacingAndGlyphs" fill="#000">ARPV/ZIKV</text>
<text x="353.8" y="237.3" font-size="7.5" textLength="20.7" lengthAdjust="spacingAndGlyphs" fill="#000">ARPV</text>
<path d="M385.50,221.4 h6.4 M388.70,218.20000000000002 v6.4" stroke="#111" stroke-width="1.2" fill="none"/>
<path d="M386.30,235.0 h4.8" stroke="#111" stroke-width="1.4" fill="none"/>
<path d="M403.50,221.4 h6.4 M406.70,218.20000000000002 v6.4" stroke="#111" stroke-width="1.2" fill="none"/>
<path d="M404.30,235.0 h4.8" stroke="#111" stroke-width="1.4" fill="none"/>
<path d="M421.50,221.4 h6.4 M424.70,218.20000000000002 v6.4" stroke="#111" stroke-width="1.2" fill="none"/>
<path d="M422.30,235.0 h4.8" stroke="#111" stroke-width="1.4" fill="none"/>
<path d="M440.30,221.4 h4.8" stroke="#111" stroke-width="1.4" fill="none"/>
<path d="M439.50,235.0 h6.4 M442.70,231.8 v6.4" stroke="#111" stroke-width="1.2" fill="none"/>
<path d="M458.30,221.4 h4.8" stroke="#111" stroke-width="1.4" fill="none"/>
<path d="M457.50,235.0 h6.4 M460.70,231.8 v6.4" stroke="#111" stroke-width="1.2" fill="none"/>
<path d="M476.30,221.4 h4.8" stroke="#111" stroke-width="1.4" fill="none"/>
<path d="M475.50,235.0 h6.4 M478.70,231.8 v6.4" stroke="#111" stroke-width="1.2" fill="none"/>
<path d="M494.30,221.4 h4.8" stroke="#111" stroke-width="1.4" fill="none"/>
<path d="M494.30,235.0 h4.8" stroke="#111" stroke-width="1.4" fill="none"/>
<path d="M512.30,221.4 h4.8" stroke="#111" stroke-width="1.4" fill="none"/>
<path d="M512.30,235.0 h4.8" stroke="#111" stroke-width="1.4" fill="none"/>
<path d="M530.30,221.4 h4.8" stroke="#111" stroke-width="1.4" fill="none"/>
<path d="M530.30,235.0 h4.8" stroke="#111" stroke-width="1.4" fill="none"/>
<line x1="320.4" y1="260.2" x2="337.6" y2="260.2" stroke="#00897b" stroke-width="0.9"/>
<rect x="327.60" y="258.80" width="2.8" height="2.8" fill="#00897b"/>
<text x="341" y="262.8" font-size="7.45" textLength="55.4" lengthAdjust="spacingAndGlyphs" fill="#000">Negative Control</text>
<line x1="320.4" y1="270.6" x2="337.6" y2="270.6" stroke="#ff9212" stroke-width="0.9"/>
<rect x="327.60" y="269.20" width="2.8" height="2.8" fill="#ff9212"/>
<text x="341" y="273.20000000000005" font-size="7.45" textLength="60" lengthAdjust="spacingAndGlyphs" fill="#000">ARPV (backbone)</text>
<line x1="416" y1="260.2" x2="432" y2="260.2" stroke="#c4125a" stroke-width="0.9"/>
<rect x="422.60" y="258.80" width="2.8" height="2.8" fill="#c4125a"/>
<text x="435" y="262.8" font-size="7.45" textLength="72.4" lengthAdjust="spacingAndGlyphs" fill="#000">ARPV/ZIKV (vaccine)</text>
<line x1="416" y1="270.6" x2="432" y2="270.6" stroke="#1f55e0" stroke-width="0.9"/>
<rect x="422.60" y="269.20" width="2.8" height="2.8" fill="#1f55e0"/>
<text x="435" y="273.20000000000005" font-size="7.45" textLength="69" lengthAdjust="spacingAndGlyphs" fill="#000">ZIKV DakAr D 41524</text>
</svg>
</body></html>
